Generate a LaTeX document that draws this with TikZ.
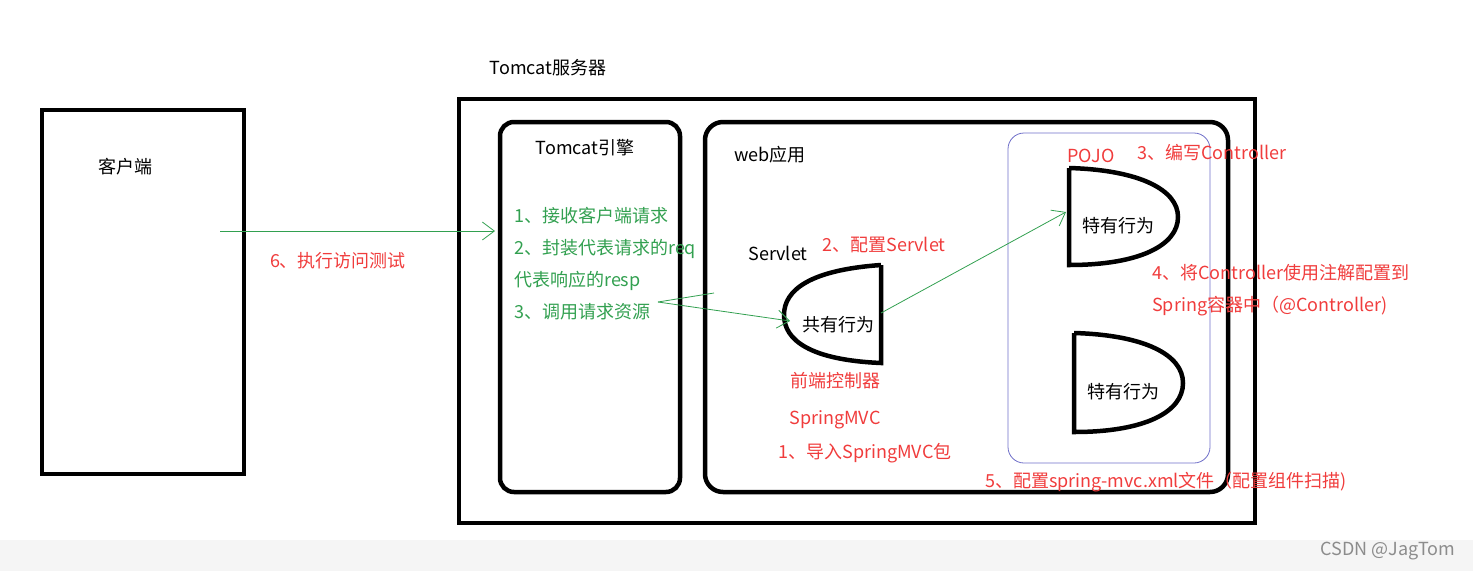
\documentclass[tikz,border=0pt]{standalone}
\usepackage{fontspec}
\setmainfont{Noto Sans CJK SC}
\usetikzlibrary{arrows.meta}
\definecolor{rd}{RGB}{240,60,60}
\definecolor{gr}{RGB}{50,160,80}
\definecolor{bl}{RGB}{110,110,200}
\begin{document}
\begin{tikzpicture}[x=1pt,y=-1pt,
  every node/.style={font=\fontsize{18}{21}\selectfont,inner sep=0pt},
  heavy/.style={draw=black,line width=4.5pt},
  rtxt/.style={text=rd},
  gtxt/.style={text=gr,anchor=west},
  garrow/.style={draw=gr,line width=0.8pt,-{Straight Barb[length=12pt,width=18pt]}}]
\useasboundingbox (0,0) rectangle (1473,571);
\fill[black!4] (0,540) rectangle (1473,571);
\node[text=black!45] (wm) at (1388,551) {CSDN @JagTom};
% boxes
\draw[heavy] (42,110) rectangle (244,474);
\draw[heavy] (459,99) rectangle (1255,523);
\draw[heavy,rounded corners=14pt] (500,122) rectangle (680,492);
\draw[heavy,rounded corners=18pt] (705,122) rectangle (1228,492);
\draw[bl,line width=0.8pt,rounded corners=16pt] (1008,133) rectangle (1210,463);
% gates
\draw[heavy] (881,265) -- (881,363) .. controls (810,360) and (784,340) .. (784,315) .. controls (784,290) and (810,270) .. (881,265);
\draw[heavy] (1069,168) -- (1069,265) .. controls (1140,265) and (1178,245) .. (1178,217) .. controls (1178,190) and (1140,170) .. (1069,168);
\draw[heavy] (1074,333) -- (1074,432) .. controls (1145,432) and (1183,412) .. (1183,383) .. controls (1183,355) and (1145,335) .. (1074,333);
% nodes
\node (srv) at (838,325) {共有行为};
\node (p1) at (1118,226) {特有行为};
\node (p2) at (1123,392) {特有行为};
\node (t1) at (548,68) {Tomcat服务器};
\node (cl) at (125,167) {客户端};
\node (eng) at (585,148) {Tomcat引擎};
\node (web) at (770,155) {web应用};
\node[gtxt] (g1) at (514,216) {1、接收客户端请求};
\node[gtxt] (g2) at (514,249) {2、封装代表请求的req};
\node[gtxt] (g3) at (514,281) {代表响应的resp};
\node[gtxt] (g4) at (514,312) {3、调用请求资源};
\node[rtxt] (r6) at (338,261) {6、执行访问测试};
\node (sv) at (778,253) {Servlet};
\node[rtxt] (r2) at (884,245) {2、配置Servlet};
\node[rtxt] (fc) at (835,381) {前端控制器};
\node[rtxt] (smvc) at (835,420) {SpringMVC};
\node[rtxt] (r1) at (865,453) {1、导入SpringMVC包};
\node[rtxt] (pojo) at (1091,156) {POJO};
\node[rtxt] (r3) at (1212,153) {3、编写Controller};
\node[rtxt,anchor=west] (r4a) at (1152,273) {4、将Controller使用注解配置到};
\node[rtxt,anchor=west] (r4b) at (1152,306) {Spring容器中（@Controller)};
\node[rtxt] (r5) at (1166,482) {5、配置spring-mvc.xml文件（配置组件扫描)};
% arrows
\coordinate (c1) at (220,231);
\coordinate (c1e) at (495,231);
\coordinate (c2) at (658,302);
\coordinate (c2e) at (790,321);
\coordinate (c3) at (881,313);
\coordinate (c3e) at (1066,212);
\draw[garrow] (c1) -- (c1e);
\draw[garrow] (c2) -- (c2e);
\draw[gr,line width=0.8pt] (c2) -- (714,293);
\draw[garrow] (c3) -- (c3e);
\end{tikzpicture}
\end{document}
